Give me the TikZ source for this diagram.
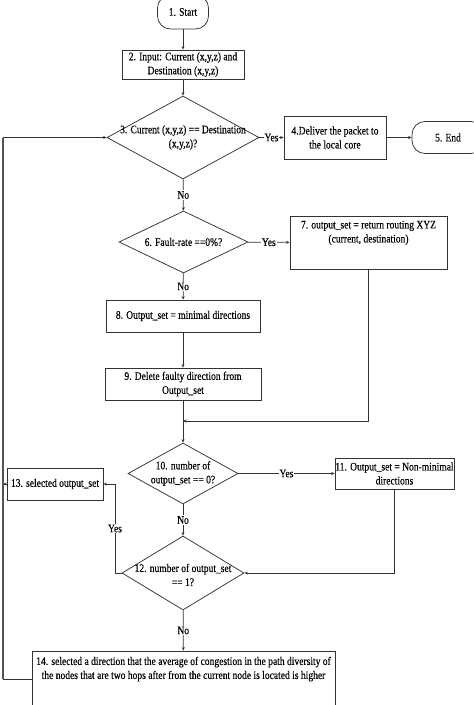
\documentclass[tikz,border=0pt]{standalone}
\usepackage{fontspec}
\setmainfont[FakeStretch=0.83,FakeBold=0.3]{Liberation Serif}
\usetikzlibrary{shapes.geometric,arrows.meta}
\definecolor{lc}{HTML}{333333}
\definecolor{loopc}{HTML}{555555}
\newcommand{\fs}{\fontsize{11.5pt}{14pt}\selectfont}
\tikzset{
  base/.style={draw=lc, line width=0.75pt, inner sep=0pt, align=center, font=\fs, text=black},
  box/.style={base, rectangle},
  term/.style={base, rectangle, rounded corners=13pt},
  dec/.style={base, diamond},
  lbl/.style={align=center, inner sep=0pt, font=\fs, text=black},
  line/.style={draw=lc, line width=0.75pt},
  conn/.style={line, -{Stealth[length=3.5pt,width=3pt]}},
  tag/.style={fill=white, inner sep=1pt, font=\fs, text=black},
}
\begin{document}
\begin{tikzpicture}[x=1pt,y=-1pt]
\useasboundingbox (0,0) rectangle (474,705);
% nodes
\node[term, minimum width=51pt, minimum height=34pt] (b1) at (183,12) {1. Start};
\node[box, minimum width=122pt, minimum height=29pt] (b2) at (183,64.5) {2. Input: Current (x,y,z) and\\Destination (x,y,z)};
\node[dec, minimum width=152pt, minimum height=83pt, label={[lbl]center:{3. Current (x,y,z) == Destination\\(x,y,z)?}}] (d3) at (183,137.5) {};
\node[box, minimum width=102pt, minimum height=43pt] (b4) at (335,137.5) {4.Deliver the packet to\\the local core};
\node[term, minimum width=72pt, minimum height=32pt] (b5) at (448,137.5) {5. End};
\node[dec, minimum width=129pt, minimum height=62pt, label={[lbl]center:{6. Fault-rate ==0\%?}}] (d6) at (183.5,242) {};
\node[box, minimum width=157pt, minimum height=53pt, label={[lbl, anchor=north, yshift=-5pt]north:{7. output\_set = return routing XYZ\\(current, destination)}}] (b7) at (368.5,242.5) {};
\node[box, minimum width=154pt, minimum height=32pt] (b8) at (183,316) {8. Output\_set = minimal directions};
\node[box, minimum width=156pt, minimum height=32pt] (b9) at (183,384) {9. Delete faulty direction from\\Output\_set};
\node[dec, minimum width=110pt, minimum height=61pt, label={[lbl]center:{10. number of\\output\_set == 0?}}] (d10) at (183,473.5) {};
\node[box, minimum width=119pt, minimum height=31pt] (b11) at (394.5,473.5) {11. Output\_set = Non-minimal\\directions};
\node[dec, minimum width=122pt, minimum height=74pt, label={[lbl, yshift=-2pt]center:{12. number of output\_set\\== 1?}}] (d12) at (183,573) {};
\node[box, minimum width=96pt, minimum height=32pt] (b13) at (55,484) {13. selected output\_set};
\node[box, minimum width=303pt, minimum height=56pt, label={[lbl, anchor=north, yshift=-6pt]north:{14. selected a direction that the average of congestion in the path diversity of\\the nodes that are two hops after from the current node is located is higher}}] (b14) at (183.5,679) {};
% helper coordinates
\coordinate (j7) at (183,421);
\coordinate (c13) at (115,573);
\coordinate (L13) at (3,484);
\coordinate (Lbot) at (3,679);
\coordinate (Ltop) at (3,137.5);
% connectors
\draw[conn] (b1) -- (b2);
\draw[conn] (b2) -- (d3);
\draw[conn] (d3) -- node[tag]{Yes} (b4);
\draw[conn] (b4) -- (b5);
\draw[conn] (d3) -- node[tag]{No} (d6);
\draw[conn] (d6) -- node[tag]{Yes} (b7);
\draw[conn] (d6) -- node[tag]{No} (b8);
\draw[conn] (b8) -- (b9);
\draw[conn] (b9) -- (d10);
\draw[conn] (b7) |- (j7);
\draw[conn] (d10) -- node[tag]{Yes} (b11);
\draw[conn] (d10) -- node[tag]{No} (d12);
\draw[conn] (b11) |- (d12);
\draw[line] (d12.west) -- (c13);
\draw[conn] (c13) |- node[tag, pos=0.25]{Yes} (b13);
\draw[conn] (b13) -- (L13);
\draw[conn] (d12) -- node[tag]{No} (b14);
\draw[line] (b14.west) -- (Lbot);
\draw[draw=loopc, line width=1.6pt] (Lbot) -- (Ltop);
\draw[conn] (Ltop) -- (d3);
\end{tikzpicture}
\end{document}
